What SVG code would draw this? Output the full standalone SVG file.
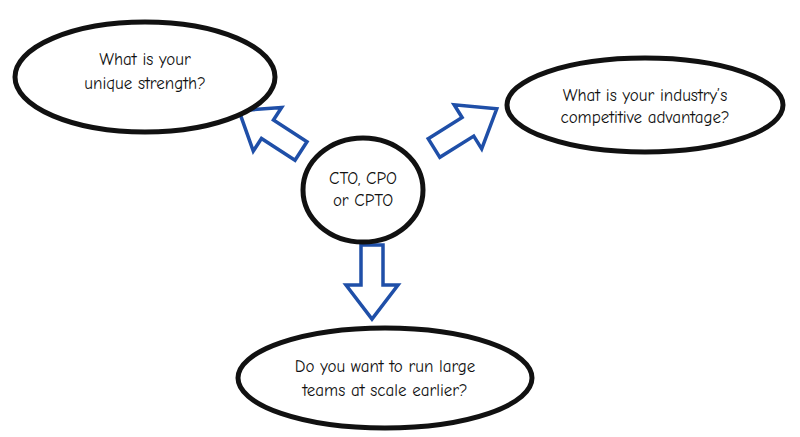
<svg xmlns="http://www.w3.org/2000/svg" width="800" height="437" viewBox="0 0 800 437">
<style>
.n{fill:#fff;stroke:#111;stroke-width:5}
.t{font-family:"Comic Neue","DejaVu Sans",sans-serif;font-size:17px;fill:#111;text-anchor:middle}
.a{fill:#fff;stroke:#1f4fa8;stroke-width:3.5;stroke-linejoin:miter}
</style>
<defs><polygon id="arr" points="0,-11 40,-11 40,-26 74,0 40,26 40,11 0,11"/></defs>
<rect width="800" height="437" fill="#fff"/>
<g id="connectors">
<use href="#arr" class="a" transform="translate(301,151) rotate(213)"/>
<use href="#arr" class="a" transform="translate(434,148) rotate(-32)"/>
<use href="#arr" class="a" transform="translate(372,245) rotate(90)"/>
</g>
<g id="center"><ellipse class="n" cx="363" cy="190" rx="60" ry="52"/>
<text class="t" x="363" y="184">CTO, CPO</text><text class="t" x="363" y="206">or CPTO</text></g>
<g id="strength"><ellipse class="n" cx="145" cy="77" rx="130" ry="55"/>
<text class="t" x="145" y="65">What is your</text><text class="t" x="145" y="89">unique strength?</text></g>
<g id="industry"><ellipse class="n" cx="645" cy="105" rx="138" ry="47"/>
<text class="t" x="645" y="101">What is your industry’s</text><text class="t" x="645" y="123">competitive advantage?</text></g>
<g id="teams"><ellipse class="n" cx="385" cy="378" rx="147" ry="50"/>
<text class="t" x="385" y="372">Do you want to run large</text><text class="t" x="385" y="396">teams at scale earlier?</text></g>
</svg>
